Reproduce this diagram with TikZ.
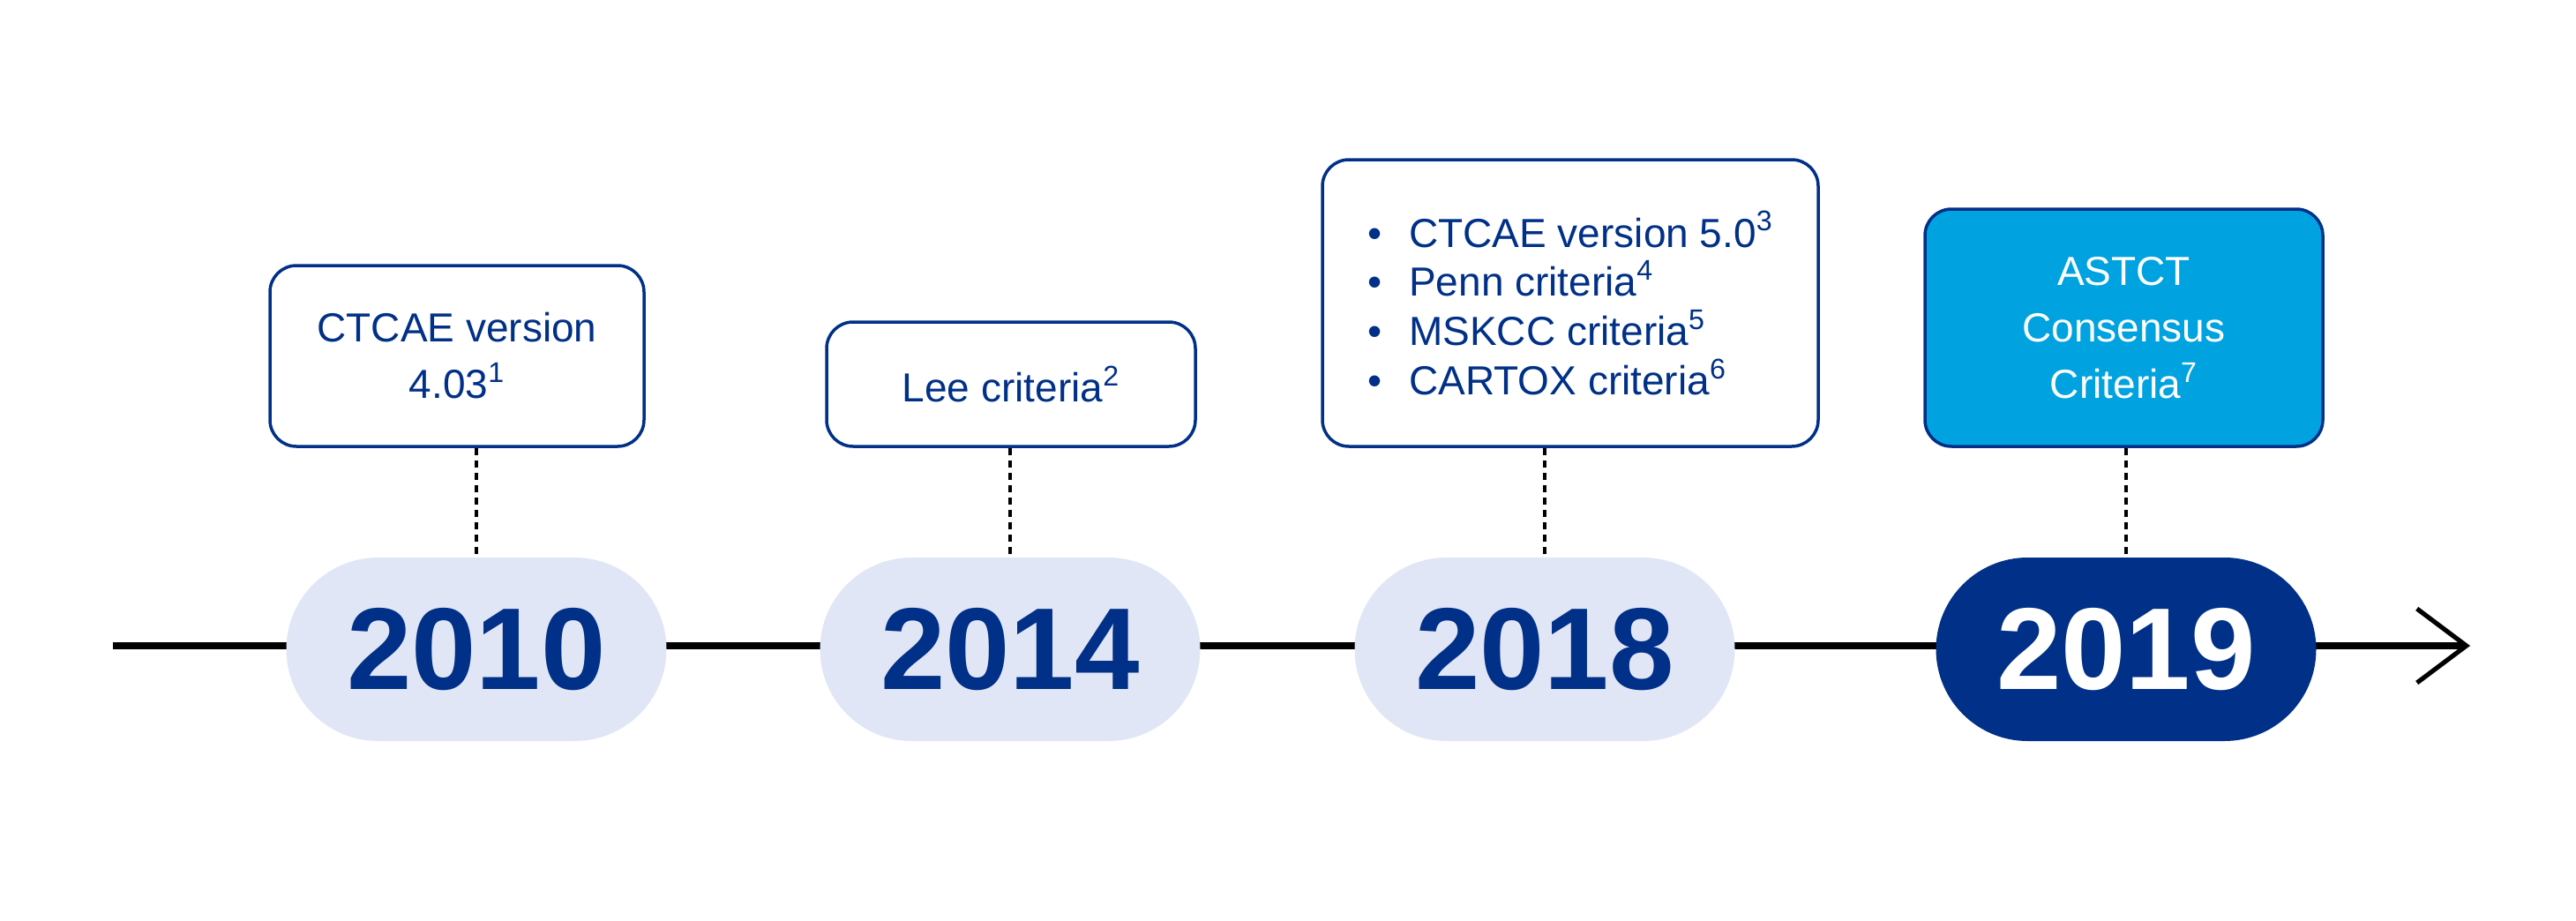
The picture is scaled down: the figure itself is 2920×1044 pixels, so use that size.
\documentclass[tikz,border=0pt]{standalone}
\usepackage{fontspec}
\setmainfont{Liberation Sans}
\usetikzlibrary{arrows.meta}
\definecolor{navy}{HTML}{003087}
\definecolor{pillfill}{HTML}{E1E6F6}
\definecolor{cyanbox}{HTML}{00A3E0}
\begin{document}
\begin{tikzpicture}[x=0.5pt,y=-0.5pt,
  pillst/.style={rounded corners=52pt, minimum width=215.5pt, minimum height=104pt, inner sep=0pt,
    font=\bfseries\fontsize{66}{66}\selectfont},
  yearpill/.style={pillst, fill=pillfill, text=navy},
  yearpilldark/.style={pillst, fill=navy, text=white},
  infobox/.style={draw=navy, line width=1.75pt, rounded corners=15pt, inner sep=0pt, align=center,
    text=navy, fill=white, font=\fontsize{23}{32}\selectfont},
  dashline/.style={draw=black, line width=1.8pt, dash pattern=on 4pt off 3pt},
  timeline/.style={draw=black, line width=3.6pt, -{Straight Barb[length=28pt, width=42pt, line width=2.6pt]}}
]
\useasboundingbox (0,0) rectangle (2920,1044);

% timeline
\coordinate (tstart) at (128,732);
\coordinate (tend) at (2800,732);
\draw[timeline] (tstart) -- (tend);

% year pills
\node[yearpill] (p2010) at (540,736) {2010};
\node[yearpill] (p2014) at (1145,736) {2014};
\node[yearpill] (p2018) at (1751,736) {2018};
\node[yearpilldark] (p2019) at (2410,736) {2019};

% info boxes
\node[infobox, minimum width=212pt, minimum height=102.5pt] (b2010) at (518,403.5)
  {CTCAE version\\4.03\textsuperscript{1}};
\node[infobox, minimum width=209pt, minimum height=70.5pt] (b2014) at (1146,435.5)
  {Lee criteria\textsuperscript{2}};
\node[infobox, minimum width=281pt, minimum height=162.5pt, align=left,
  font=\fontsize{23}{27.85}\selectfont] (b2018) at (1780,343.5)
  {\textbullet\hspace{15.5pt}CTCAE version 5.0\textsuperscript{3}\\
   \textbullet\hspace{15.5pt}Penn criteria\textsuperscript{4}\\
   \textbullet\hspace{15.5pt}MSKCC criteria\textsuperscript{5}\\
   \textbullet\hspace{15.5pt}CARTOX criteria\textsuperscript{6}};
\node[infobox, fill=cyanbox, text=white, minimum width=225.5pt, minimum height=134.5pt] (b2019) at (2407.5,371.5)
  {ASTCT\\Consensus\\Criteria\textsuperscript{7}};

% dashed connectors
\draw[dashline] (b2010.south -| p2010.north) -- (p2010.north);
\draw[dashline] (b2014.south -| p2014.north) -- (p2014.north);
\draw[dashline] (b2018.south -| p2018.north) -- (p2018.north);
\draw[dashline] (b2019.south -| p2019.north) -- (p2019.north);
\end{tikzpicture}
\end{document}
